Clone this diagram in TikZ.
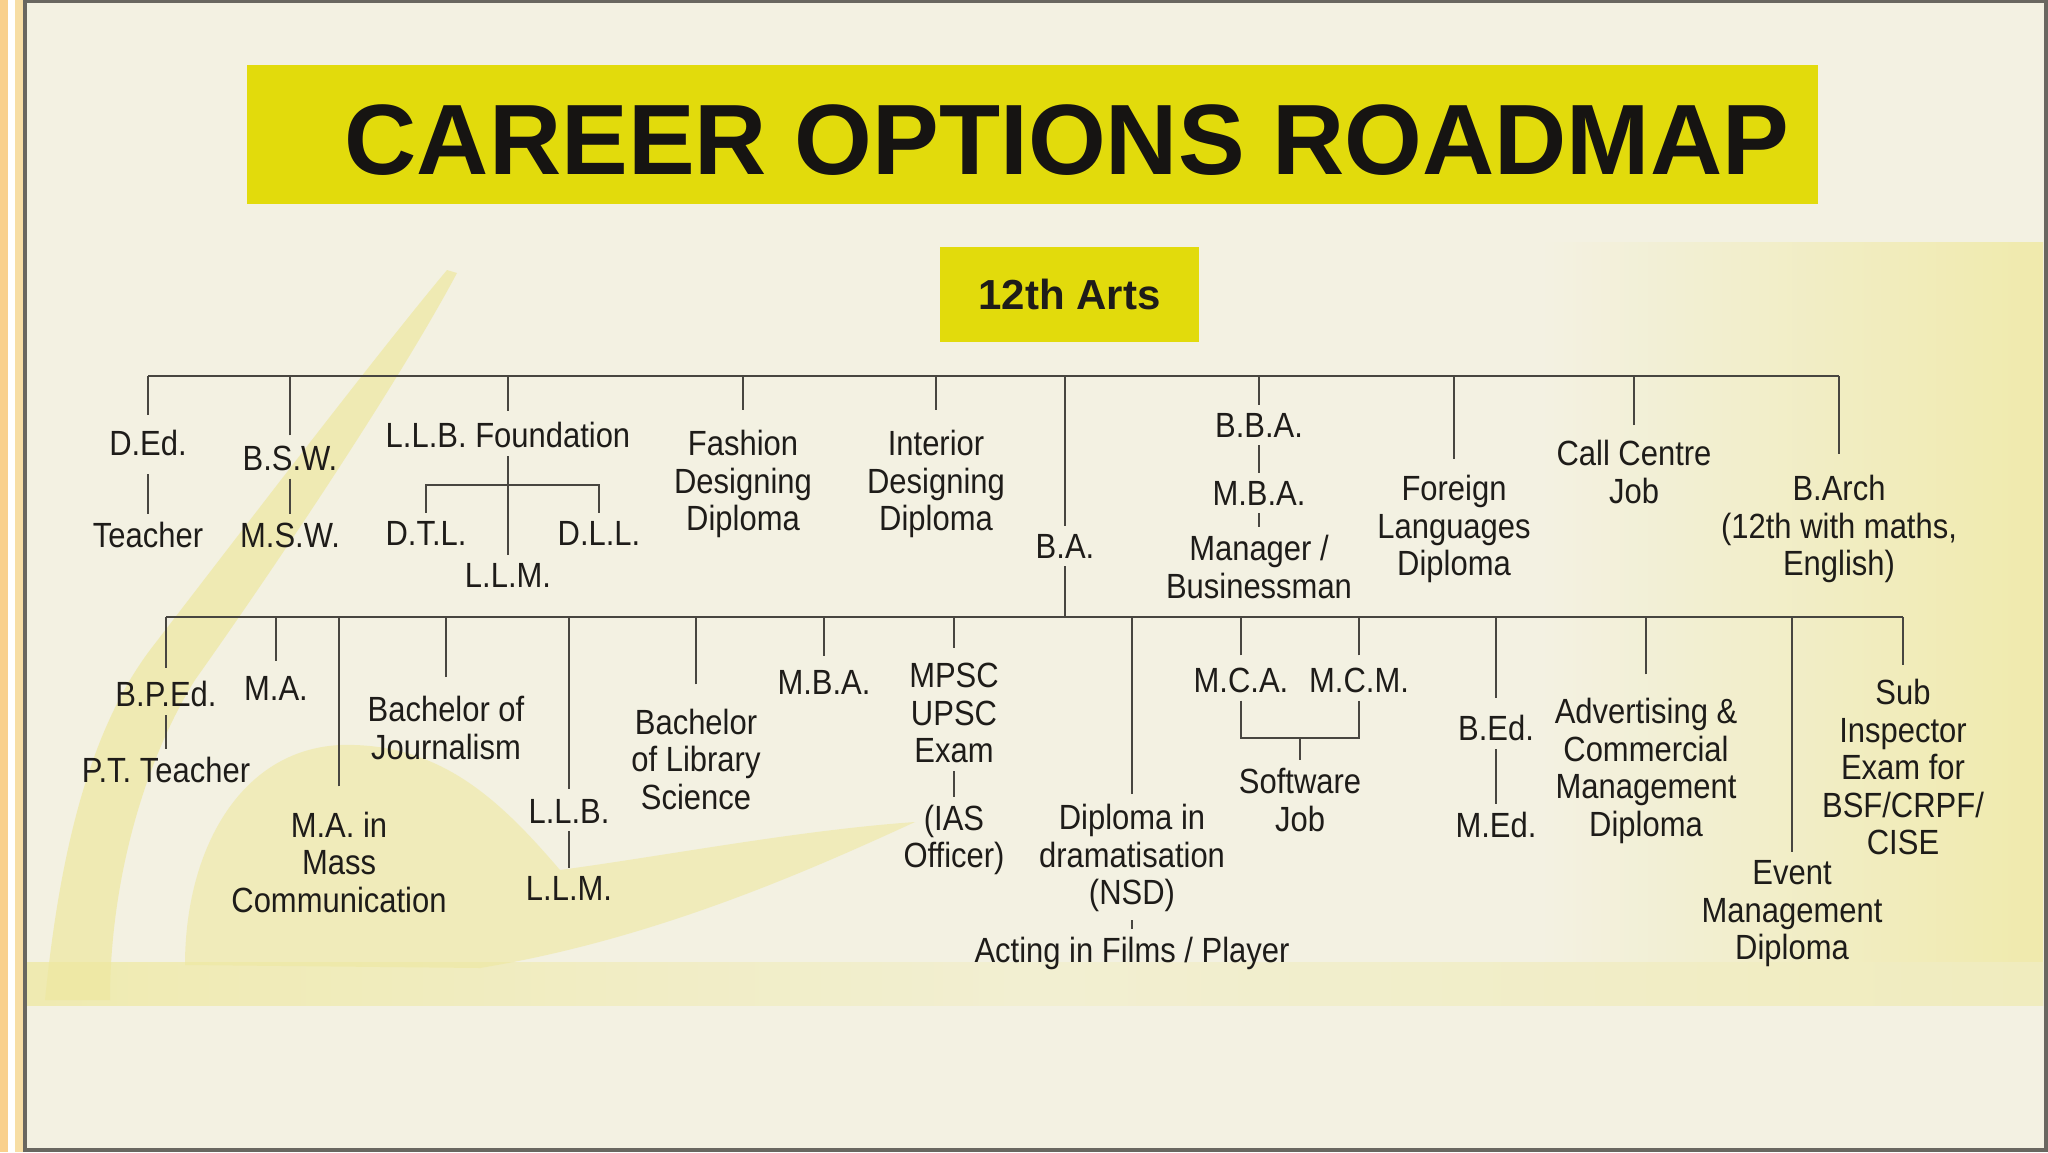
\documentclass[tikz,border=0pt]{standalone}
\usepackage{fontspec}
\setmainfont{Liberation Sans}
\newfontfamily\lblfont[FakeStretch=0.885]{Liberation Sans}
\definecolor{bg}{RGB}{243,241,226}
\definecolor{ban}{RGB}{226,219,12}
\definecolor{ln}{RGB}{72,70,64}
\definecolor{tx}{RGB}{30,28,25}
\definecolor{yl}{RGB}{238,232,160}
\definecolor{ylr}{RGB}{240,234,172}
\definecolor{org}{RGB}{249,208,140}
\definecolor{orgb}{RGB}{247,222,165}
\definecolor{brd}{RGB}{105,103,96}
\newcommand\lblsize{\lblfont\fontsize{35}{37.5}\selectfont}
\begin{document}
\begin{tikzpicture}[x=1pt,y=-1pt,
  lbl/.style={align=center, font=\lblsize, text=tx, inner xsep=2pt, inner ysep=8pt},
  bus/.style={draw=ln, line width=2.6pt},
  sub/.style={draw=ln, line width=2pt}]
\useasboundingbox (0,0) rectangle (2048,1152);
% background
\fill[bg] (0,0) rectangle (2048,1152);
\shade[left color=bg, right color=ylr] (1540,242) rectangle (2043,1005);
\shade[left color=yl!75!bg, right color=yl!55!bg, middle color=yl!25!bg] (25,962) rectangle (2043,1005);
\fill[yl, opacity=0.7] (447,270) .. controls (380,350) and (250,520) .. (150,650) .. controls (90,730) and (60,850) .. (45,1000) -- (110,1000) .. controls (110,880) and (145,760) .. (195,680) .. controls (280,560) and (400,380) .. (457,273) -- cycle;
\fill[yl, opacity=0.6] (185,965) .. controls (185,850) and (240,750) .. (340,745) .. controls (440,742) and (500,800) .. (560,870) .. controls (670,855) and (800,830) .. (915,822) .. controls (800,875) and (650,940) .. (480,968) -- cycle;
% frame
\fill[org] (0,0) rectangle (8,1152);
\fill[white] (8,0) rectangle (15,1152);
\fill[orgb] (15,0) rectangle (23,1152);
\draw[brd, line width=3.5pt] (25,1.5) rectangle (2046,1150);
% title and root
\node[fill=ban, minimum width=1571pt, minimum height=139pt, inner sep=0pt] (banner) at (1032.5,134.5) {};
\node[font=\fontsize{100}{110}\selectfont\bfseries, text={rgb,255:red,22;green,20;blue,18}, inner sep=0pt] (title) at (1067,140) {CAREER OPTIONS ROADMAP};
\node[fill=ban, minimum width=259pt, minimum height=95pt, inner sep=0pt, font=\fontsize{42}{48}\selectfont\bfseries, text=tx] (root) at (1069.5,294.5) {12th Arts};
% bus coordinates
\coordinate (tb) at (0,376);
\coordinate (bb) at (0,617);
\coordinate (brk) at (0,485);
\coordinate (brkb) at (0,738);
% top row
\node[lbl] (ded) at (148,443) {D.Ed.};
\node[lbl] (teacher) at (148,535) {Teacher};
\node[lbl] (bsw) at (290,458) {B.S.W.};
\node[lbl] (msw) at (290,535) {M.S.W.};
\node[lbl] (llbf) at (508,435) {L.L.B. Foundation};
\node[lbl] (dtl) at (426,533) {D.T.L.};
\node[lbl] (dll) at (599,533) {D.L.L.};
\node[lbl] (llmA) at (508,575) {L.L.M.};
\node[lbl] (fashion) at (743,484) {Fashion\\Designing\\Diploma};
\node[lbl] (interior) at (936,484) {Interior\\Designing\\Diploma};
\node[lbl] (ba) at (1065,546) {B.A.};
\node[lbl] (bba) at (1259,425) {B.B.A.};
\node[lbl] (mbaA) at (1259,493) {M.B.A.};
\node[lbl] (manager) at (1259,567) {Manager /\\Businessman};
\node[lbl] (foreign) at (1454,529) {Foreign\\Languages\\Diploma};
\node[lbl] (callc) at (1634,472) {Call Centre\\Job};
\node[lbl] (barch) at (1839,529) {B.Arch\\(12th with maths,\\English)};
% bottom row
\node[lbl] (bped) at (166,694) {B.P.Ed.};
\node[lbl] (pt) at (166,770) {P.T. Teacher};
\node[lbl] (ma) at (276,688) {M.A.};
\node[lbl] (mamass) at (339,862) {M.A. in\\Mass\\Communication};
\node[lbl] (bjour) at (446,728) {Bachelor of\\Journalism};
\node[lbl] (llb) at (569,811) {L.L.B.};
\node[lbl] (llmB) at (569,888) {L.L.M.};
\node[lbl] (blib) at (696,759) {Bachelor\\of Library\\Science};
\node[lbl] (mbaB) at (824,682) {M.B.A.};
\node[lbl] (mpsc) at (954,713) {MPSC\\UPSC\\Exam};
\node[lbl] (ias) at (954,840) {(IAS\\Officer)};
\node[lbl] (drama) at (1132,858) {Diploma in\\dramatisation\\(NSD)};
\node[lbl] (acting) at (1132,953) {Acting in Films / Player};
\node[lbl] (mca) at (1241,680) {M.C.A.};
\node[lbl] (mcm) at (1359,680) {M.C.M.};
\node[lbl] (software) at (1300,800) {Software\\Job};
\node[lbl] (bed) at (1496,728) {B.Ed.};
\node[lbl] (med) at (1496,825) {M.Ed.};
\node[lbl] (advert) at (1646,771) {Advertising \&\\Commercial\\Management\\Diploma};
\node[lbl] (event) at (1792,914) {Event\\Management\\Diploma};
\node[lbl] (subinsp) at (1903,767) {Sub\\Inspector\\Exam for\\BSF/CRPF/\\CISE};
% top bus
\draw[bus] (ded.north |- tb) -- (barch.north |- tb);
\foreach \n/\s in {ded/7pt,bsw/2pt,llbf/3pt,fashion/12pt,interior/12pt,ba/0pt,bba/0pt,foreign/8pt,callc/7pt,barch/13pt}
  \draw[bus, shorten <=\s] (\n.north) -- (\n.north |- tb);
\draw[bus] (ba.south) -- (ba.south |- bb);
% bottom bus
\draw[bus] (bped.north |- bb) -- (subinsp.north |- bb);
\foreach \n/\s in {bped/5pt,ma/7pt,mamass/17pt,bjour/11pt,llb/2pt,blib/16pt,mbaB/6pt,mpsc/7pt,drama/2pt,mca/4pt,mcm/4pt,bed/9pt,advert/16pt,event/1pt,subinsp/6pt}
  \draw[bus, shorten <=\s] (\n.north) -- (\n.north |- bb);
% sub connectors
\draw[sub, shorten <=10pt] (ded.south) -- (teacher.north);
\draw[sub] (bsw.south) -- (msw.north);
\draw[bus] (llbf.south) -- (llmA.north);
\draw[bus] (dtl.north) -- (dtl.north |- brk) -- (dll.north |- brk) -- (dll.north);
\draw[sub] (bba.south) -- (mbaA.north);
\draw[sub] (mbaA.south) -- (manager.north);
\draw[sub] (bped.south) -- (pt.north);
\draw[sub] (llb.south) -- (llmB.north);
\draw[sub] (mpsc.south) -- (ias.north);
\draw[sub] (drama.south) -- (acting.north);
\draw[bus] (mca.south) -- (mca.south |- brkb) -- (mcm.south |- brkb) -- (mcm.south);
\draw[sub] (software.north |- brkb) -- (software.north);
\draw[sub] (bed.south) -- (med.north);
\end{tikzpicture}
\end{document}
